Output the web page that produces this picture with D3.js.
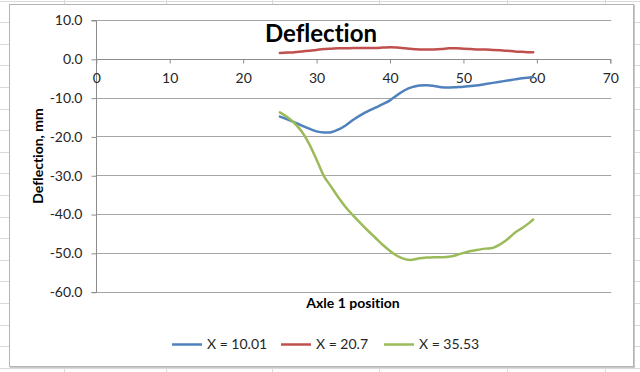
<!DOCTYPE html>
<html>
<head>
<meta charset="utf-8">
<script src="https://cdnjs.cloudflare.com/ajax/libs/d3/7.8.5/d3.min.js"></script>
<style>
html,body{margin:0;padding:0;background:#fff;}
svg{display:block;font-family:Lato,"Open Sans",sans-serif;font-variant-ligatures:none;}
</style>
</head>
<body>
<svg id="chart" width="640" height="372"></svg>
<script>
// ---- data ----
const axlePos = [25,26,27,28,29,30,31,32,33,34,35,36,37,38,39,40,41,42,43,44,45,46,47,48,49,50,51,52,53,54,55,56,57,58,59,59.5];
const defl_10_01 = [-14.9,-15.6,-16.4,-17.2,-18.0,-18.7,-19.0,-18.9,-18.2,-17.1,-15.7,-14.5,-13.5,-12.6,-11.7,-10.7,-9.3,-8.1,-7.3,-6.9,-6.8,-7.0,-7.3,-7.4,-7.3,-7.2,-7.0,-6.8,-6.5,-6.2,-5.9,-5.6,-5.3,-5.0,-4.8,-4.7];
const defl_20_7 = [1.5,1.6,1.7,1.9,2.1,2.3,2.5,2.6,2.7,2.7,2.8,2.8,2.8,2.8,2.9,3.0,2.9,2.7,2.5,2.4,2.4,2.4,2.5,2.7,2.7,2.6,2.5,2.4,2.4,2.3,2.2,2.1,1.9,1.8,1.7,1.7];
const defl_35_53 = [-13.8,-15.0,-16.6,-18.8,-22.0,-26.0,-30.2,-33.0,-35.8,-38.3,-40.4,-42.4,-44.3,-46.1,-47.9,-49.5,-50.8,-51.6,-51.8,-51.4,-51.2,-51.1,-51.1,-51.0,-50.6,-50.0,-49.5,-49.2,-48.9,-48.7,-47.8,-46.5,-44.8,-43.6,-42.2,-41.4];
const seriesNames = ["X = 10.01","X = 20.7","X = 35.53"];
const seriesColors = ["#4F81BD","#C0504D","#9BBB59"];
const xTicks = [0,10,20,30,40,50,60,70];
const yTicks = [10,0,-10,-20,-30,-40,-50,-60];
const title = "Deflection";
const xTitle = "Axle 1 position";
const yTitle = "Deflection, mm";

const series = [defl_10_01, defl_20_7, defl_35_53].map((vals,i)=>({
  name: seriesNames[i], color: seriesColors[i],
  points: axlePos.map((x,j)=>({x, y: vals[j]}))
}));

// ---- layout ----
const W = 640, H = 372;
const svg = d3.select("#chart");

// spreadsheet background gridlines
const sheet = svg.append("g").attr("stroke","#dadada").attr("stroke-width",1);
[64,166,272,379,507,605].forEach(x=>sheet.append("line").attr("x1",x+0.5).attr("x2",x+0.5).attr("y1",0).attr("y2",H));
d3.range(0.6, H, 21.6).forEach(y=>sheet.append("line").attr("x1",0).attr("x2",W).attr("y1",Math.round(y)+0.5).attr("y2",Math.round(y)+0.5));

// chart area
svg.append("rect").attr("x",10).attr("y",5).attr("width",625).attr("height",363).attr("fill","#c8c8c8");
svg.append("rect").attr("x",9.5).attr("y",4.5).attr("width",624).attr("height",362).attr("fill","#fff").attr("stroke","#b4b4b4").attr("stroke-width",1);

const x = d3.scaleLinear().domain([0,70]).range([96.3,610.3]);
const y = d3.scaleLinear().domain([-60,10]).range([291.7,20]);

const fmtY = d => d3.format(".1f")(d).replace("\u2212","-");

// horizontal gridlines
svg.append("g").selectAll("line").data(yTicks).join("line")
  .attr("x1",x(0)).attr("x2",x(70)+1)
  .attr("y1",d=>Math.round(y(d))+0.5).attr("y2",d=>Math.round(y(d))+0.5)
  .attr("stroke","#a6a6a6").attr("stroke-width",1);

// y axis
const yAxis = svg.append("g").attr("transform",`translate(${Math.round(x(0))+0.5},0)`)
  .call(d3.axisLeft(y).tickValues(yTicks).tickFormat(fmtY).tickSize(5).tickPadding(9));
yAxis.select(".domain").attr("stroke","#8c8c8c").attr("d",`M-5,${Math.round(y(10))+0.5}H0V${Math.round(y(-60))+0.5}H-5`);
yAxis.selectAll(".tick line").attr("stroke","#8c8c8c").attr("transform","translate(0,0.5)");
yAxis.selectAll(".tick text").attr("font-size",14).attr("fill","#262626").attr("font-family","Lato").attr("dy","0.34em");

// x axis at y=0
const xAxis = svg.append("g").attr("transform",`translate(0,${Math.round(y(0))+0.5})`)
  .call(d3.axisBottom(x).tickValues(xTicks).tickFormat(d3.format("d")).tickSize(4).tickPadding(10));
xAxis.select(".domain").attr("stroke","#8c8c8c").attr("d",`M${x(0)},0H${x(70)+0.5}V4`);
xAxis.selectAll(".tick line").attr("stroke","#8c8c8c");
xAxis.selectAll(".tick text").attr("font-size",14).attr("fill","#262626").attr("font-family","Lato");

// lines
const line = d3.line().x(d=>x(d.x)).y(d=>y(d.y)).curve(d3.curveCatmullRom.alpha(0.5));
svg.append("g").selectAll("path").data(series).join("path")
  .attr("d",d=>line(d.points))
  .attr("fill","none").attr("stroke",d=>d.color).attr("stroke-width",2.5)
  .attr("stroke-linejoin","round").attr("stroke-linecap","round");

// titles
svg.append("text").attr("x",321).attr("y",42).attr("text-anchor","middle")
  .attr("font-size",24).attr("font-weight","bold").attr("fill","#000").text(title);
svg.append("text").attr("x",353).attr("y",308).attr("text-anchor","middle")
  .attr("font-size",14).attr("font-weight","bold").attr("fill","#000").text(xTitle);
svg.append("text").attr("transform","translate(43,156) rotate(-90)").attr("text-anchor","middle")
  .attr("font-size",14).attr("font-weight","bold").attr("fill","#000").text(yTitle);

// legend
const legX = [172,281,384];
const leg = svg.append("g").selectAll("g").data(series).join("g")
  .attr("transform",(d,i)=>`translate(${legX[i]},344)`);
leg.append("line").attr("x1",0).attr("x2",30).attr("y1",0.5).attr("y2",0.5)
  .attr("stroke",d=>d.color).attr("stroke-width",2.5);
leg.append("text").attr("x",35).attr("y",5).attr("font-size",14).attr("fill","#262626").text(d=>d.name);
</script>
</body>
</html>
